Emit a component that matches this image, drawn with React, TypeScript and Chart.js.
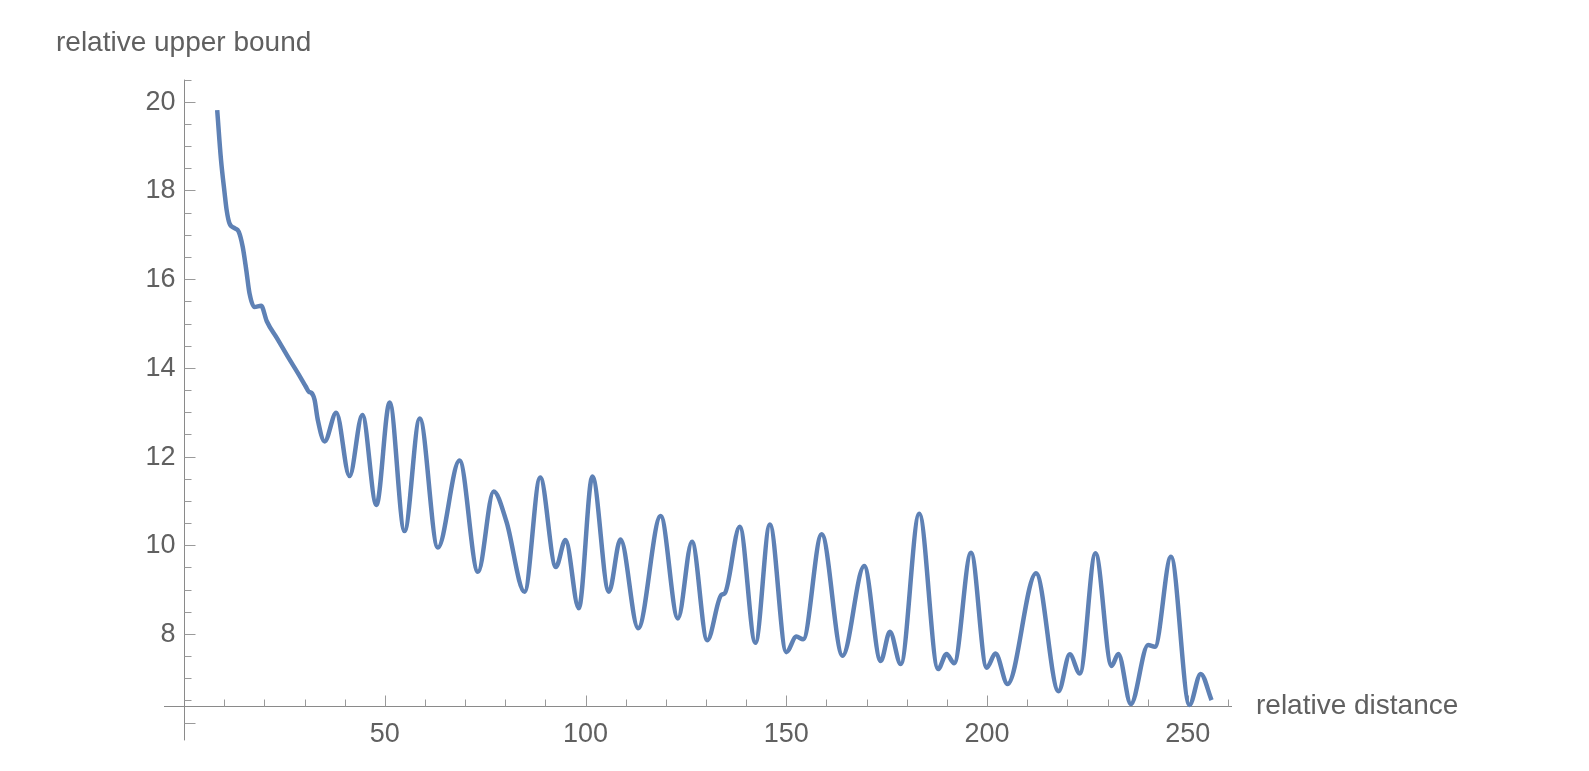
import React, { useEffect, useRef } from "react";
import { Chart, registerables } from "chart.js";

Chart.register(...registerables);

const distance: number[] = [
  8.25, 9.2, 10.1, 10.6, 11.3, 12.6, 13.6, 14.6, 15.5, 16.3, 17.5, 19.2, 20.6, 23.2, 25.8, 28.5, 30.3, 31.1, 31.7,
  32.5, 33.3, 35.0, 37.9, 41.2, 44.4, 47.9, 51.2, 54.9, 58.7, 63.2, 68.6, 73.2, 77.1, 80.3, 84.8, 88.7, 92.6, 95.0,
  98.3, 101.7, 105.8, 108.7, 113.1, 118.7, 123.0, 126.5, 130.3, 133.8, 134.7, 138.4, 142.3, 145.9, 150.0, 152.5,
  154.2, 158.8, 164.0, 169.4, 173.5, 175.8, 178.5, 183.1, 187.8, 189.9, 191.8, 196.0, 199.9, 202.1, 205.1, 212.2,
  217.8, 220.6, 223.1, 227.0, 231.0, 232.7, 235.8, 240.1, 241.8, 245.8, 250.4, 253.2, 255.9,
];

const upperBound: number[] = [
  19.81, 18.69, 17.94, 17.56, 17.26, 17.15, 17.07, 16.73, 16.2, 15.68, 15.37, 15.4, 15.05, 14.66, 14.26, 13.86,
  13.58, 13.46, 13.44, 13.28, 12.83, 12.34, 12.99, 11.56, 12.94, 10.91, 13.22, 10.32, 12.86, 9.95, 11.91, 9.4,
  11.21, 10.53, 8.95, 11.53, 9.51, 10.12, 8.58, 11.55, 8.95, 10.13, 8.13, 10.66, 8.35, 10.08, 7.86, 8.88, 8.92,
  10.42, 7.8, 10.47, 7.59, 7.94, 7.88, 10.25, 7.51, 9.53, 7.39, 8.05, 7.32, 10.71, 7.21, 7.55, 7.34, 9.83, 7.24,
  7.56, 6.87, 9.37, 6.71, 7.54, 7.11, 9.82, 7.28, 7.55, 6.42, 7.75, 7.71, 9.74, 6.4, 7.1, 6.51,
];

const xMajorTicks: number[] = [50, 100, 150, 200, 250];
const xMinorTicks: number[] = [10, 20, 30, 40, 60, 70, 80, 90, 110, 120, 130, 140, 160, 170, 180, 190, 210, 220, 230, 240, 260];
const yMajorTicks: number[] = [8, 10, 12, 14, 16, 18, 20];
const yUnlabeledMajor: number[] = [6];
const yMinorTicks: number[] = [
  6.5, 7, 7.5, 8.5, 9, 9.5, 10.5, 11, 11.5, 12.5, 13, 13.5, 14.5, 15, 15.5, 16.5, 17, 17.5, 18.5, 19, 19.5, 20.5,
];

const xTitle = "relative distance";
const yTitle = "relative upper bound";
const axisOriginY = 6.38;

const FONT = '"Liberation Sans", Arial, sans-serif';
const TEXT_COLOR = "#606060";
const AXIS_COLOR = "#8a8a8a";

const axesPlugin = {
  id: "mmaAxes",
  beforeDatasetsDraw(chart: any) {
    const ctx = chart.ctx;
    const xs = chart.scales.x;
    const ys = chart.scales.y;
    const area = chart.chartArea;
    const x0 = Math.round(xs.getPixelForValue(0)) + 0.5;
    const y0 = Math.round(ys.getPixelForValue(axisOriginY)) + 0.5;
    ctx.save();
    ctx.strokeStyle = AXIS_COLOR;
    ctx.lineWidth = 1;
    ctx.beginPath();
    ctx.moveTo(area.left, y0);
    ctx.lineTo(area.right, y0);
    ctx.moveTo(x0, area.top);
    ctx.lineTo(x0, area.bottom);
    ctx.stroke();

    ctx.strokeStyle = "#9a9a9a";
    ctx.beginPath();
    for (const v of xMajorTicks) {
      const p = Math.round(xs.getPixelForValue(v)) + 0.5;
      ctx.moveTo(p, y0);
      ctx.lineTo(p, y0 - 11);
    }
    for (const v of xMinorTicks) {
      const p = Math.round(xs.getPixelForValue(v)) + 0.5;
      ctx.moveTo(p, y0);
      ctx.lineTo(p, y0 - 7);
    }
    for (const v of [...yMajorTicks, ...yUnlabeledMajor]) {
      const p = Math.round(ys.getPixelForValue(v)) + 0.5;
      ctx.moveTo(x0, p);
      ctx.lineTo(x0 + 11, p);
    }
    for (const v of yMinorTicks) {
      const p = Math.round(ys.getPixelForValue(v)) + 0.5;
      ctx.moveTo(x0, p);
      ctx.lineTo(x0 + 7, p);
    }
    ctx.stroke();

    ctx.fillStyle = TEXT_COLOR;
    ctx.font = `27px ${FONT}`;
    ctx.textBaseline = "alphabetic";
    ctx.textAlign = "center";
    for (const v of xMajorTicks) {
      const p = xs.getPixelForValue(v);
      ctx.fillText(String(v), p, y0 + 35);
    }
    ctx.textAlign = "right";
    for (const v of yMajorTicks) {
      const p = ys.getPixelForValue(v);
      ctx.fillText(String(v), x0 - 9, p + 8);
    }

    ctx.font = `28px ${FONT}`;
    ctx.textAlign = "left";
    ctx.fillText(xTitle, area.right + 24, y0 + 7);
    ctx.fillText(yTitle, 56, 51);
    ctx.restore();
  },
};

export default function App() {
  const canvasRef = useRef<HTMLCanvasElement | null>(null);

  useEffect(() => {
    if (!canvasRef.current) return;
    const chart = new Chart(canvasRef.current, {
      type: "line",
      data: {
        datasets: [
          {
            data: distance.map((d, i) => ({ x: d, y: upperBound[i] })),
            borderColor: "#5E81B5",
            borderWidth: 4.5,
            pointRadius: 0,
            fill: false,
            cubicInterpolationMode: "monotone",
            borderCapStyle: "butt",
            borderJoinStyle: "round",
          },
        ],
      },
      options: {
        animation: false,
        responsive: true,
        maintainAspectRatio: false,
        layout: { padding: { left: 164, right: 357, top: 79.6, bottom: 30.6 } },
        plugins: { legend: { display: false }, tooltip: { enabled: false } },
        scales: {
          x: { type: "linear", min: -5, max: 261, display: false },
          y: { type: "linear", min: 5.6, max: 20.5, display: false },
        },
      },
      plugins: [axesPlugin],
    });
    return () => chart.destroy();
  }, []);

  return (
    <div style={{ position: "absolute", left: 0, top: 0, width: 1589, height: 771, background: "#fff" }}>
      <canvas ref={canvasRef} />
    </div>
  );
}
